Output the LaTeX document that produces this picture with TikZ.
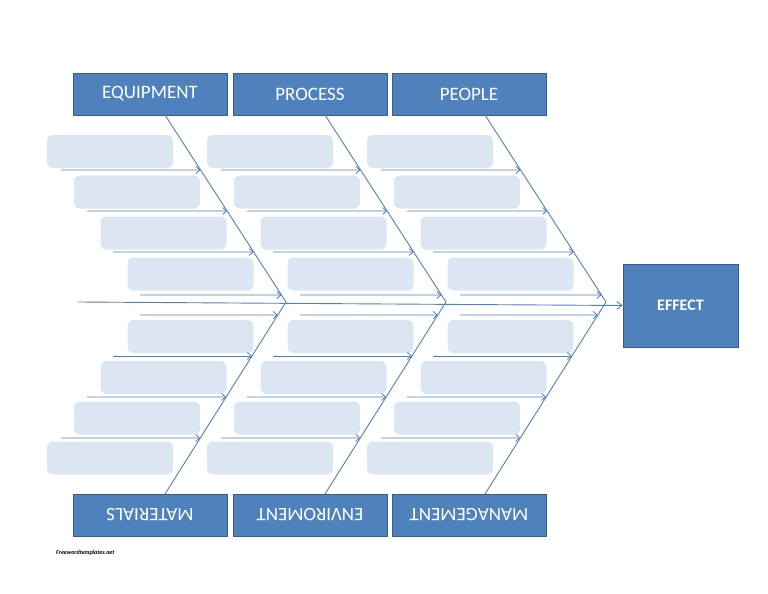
\documentclass[tikz,border=0pt]{standalone}
\usepackage{fontspec}
\setmainfont{Carlito}
\usetikzlibrary{arrows.meta,calc}
\definecolor{blu}{RGB}{79,129,189}
\definecolor{bdr}{RGB}{56,93,138}
\definecolor{lbox}{RGB}{220,230,242}
\begin{document}
\begin{tikzpicture}[x=1pt,y=-1pt,
 cat/.style={draw=bdr,fill=blu,line width=0.8pt,minimum width=154pt,minimum height=42pt,text=white,font=\fontsize{19}{19}\selectfont,inner sep=0pt},
 lb/.style={fill=lbox,rounded corners=6pt,minimum width=126pt,minimum height=33pt,inner sep=0pt},
 bone/.style={draw=blu,line width=0.9pt},
 sub/.style={draw=blu,line width=0.8pt,-{Straight Barb[length=4pt,width=7pt]}}]
\useasboundingbox (0,0) rectangle (768,594);
\node[cat] (t1) at (150,94) {EQUIPMENT};
\node[cat] (t2) at (310,94) {PROCESS};
\node[cat] (t3) at (469,94) {PEOPLE};
\node[cat,rotate=180] (b1) at (150,515) {MATERIALS};
\node[cat,rotate=180] (b2) at (310,515) {ENVIROMENT};
\node[cat,rotate=180] (b3) at (469,515) {MANAGEMENT};
\node[draw=bdr,fill=blu,line width=0.8pt,minimum width=115pt,minimum height=83pt,text=white,font=\bfseries\fontsize{16}{16}\selectfont] (eff) at (680.5,305.5) {EFFECT};
\coordinate (s0) at (78,302);
\draw[bone,-{Straight Barb[length=5pt,width=8pt]}] (s0) -- (eff.west);
\foreach \i/\dx in {1/0,2/160,3/320}{
 \coordinate (tt\i) at (165+\dx,115);
 \coordinate (jj\i) at (286+\dx,302);
 \coordinate (bb\i) at (165+\dx,494);
 \draw[bone] (tt\i) -- (jj\i) -- (bb\i);
 \foreach \k/\y/\xs/\bx/\by in {1/170/61/110/151.5, 2/211/87/137/192, 3/252/113/163.5/233, 4/295/140/190.5/274}{
   \node[lb] (u\i\k) at (\bx+\dx,\by) {};
   \coordinate (us\i\k) at (\xs+\dx,\y);
   \coordinate (ue\i\k) at ($(tt\i)!{(\y-115)/187}!(jj\i)$);
   \draw[sub] (us\i\k) -- (ue\i\k);
 }
 \foreach \k/\y/\xs/\bx/\by in {1/315/140/190.5/336.5, 2/356/113/163.5/377.5, 3/397/87/137/418, 4/438/61/110/458}{
   \node[lb] (d\i\k) at (\bx+\dx,\by) {};
   \coordinate (ds\i\k) at (\xs+\dx,\y);
   \coordinate (de\i\k) at ($(bb\i)!{(494-\y)/192}!(jj\i)$);
   \draw[sub] (ds\i\k) -- (de\i\k);
 }
}
\node[anchor=west,font=\bfseries\itshape\fontsize{6}{6}\selectfont,inner sep=0pt] (ft) at (56,553) {Freewordtemplates.net};
\end{tikzpicture}
\end{document}
